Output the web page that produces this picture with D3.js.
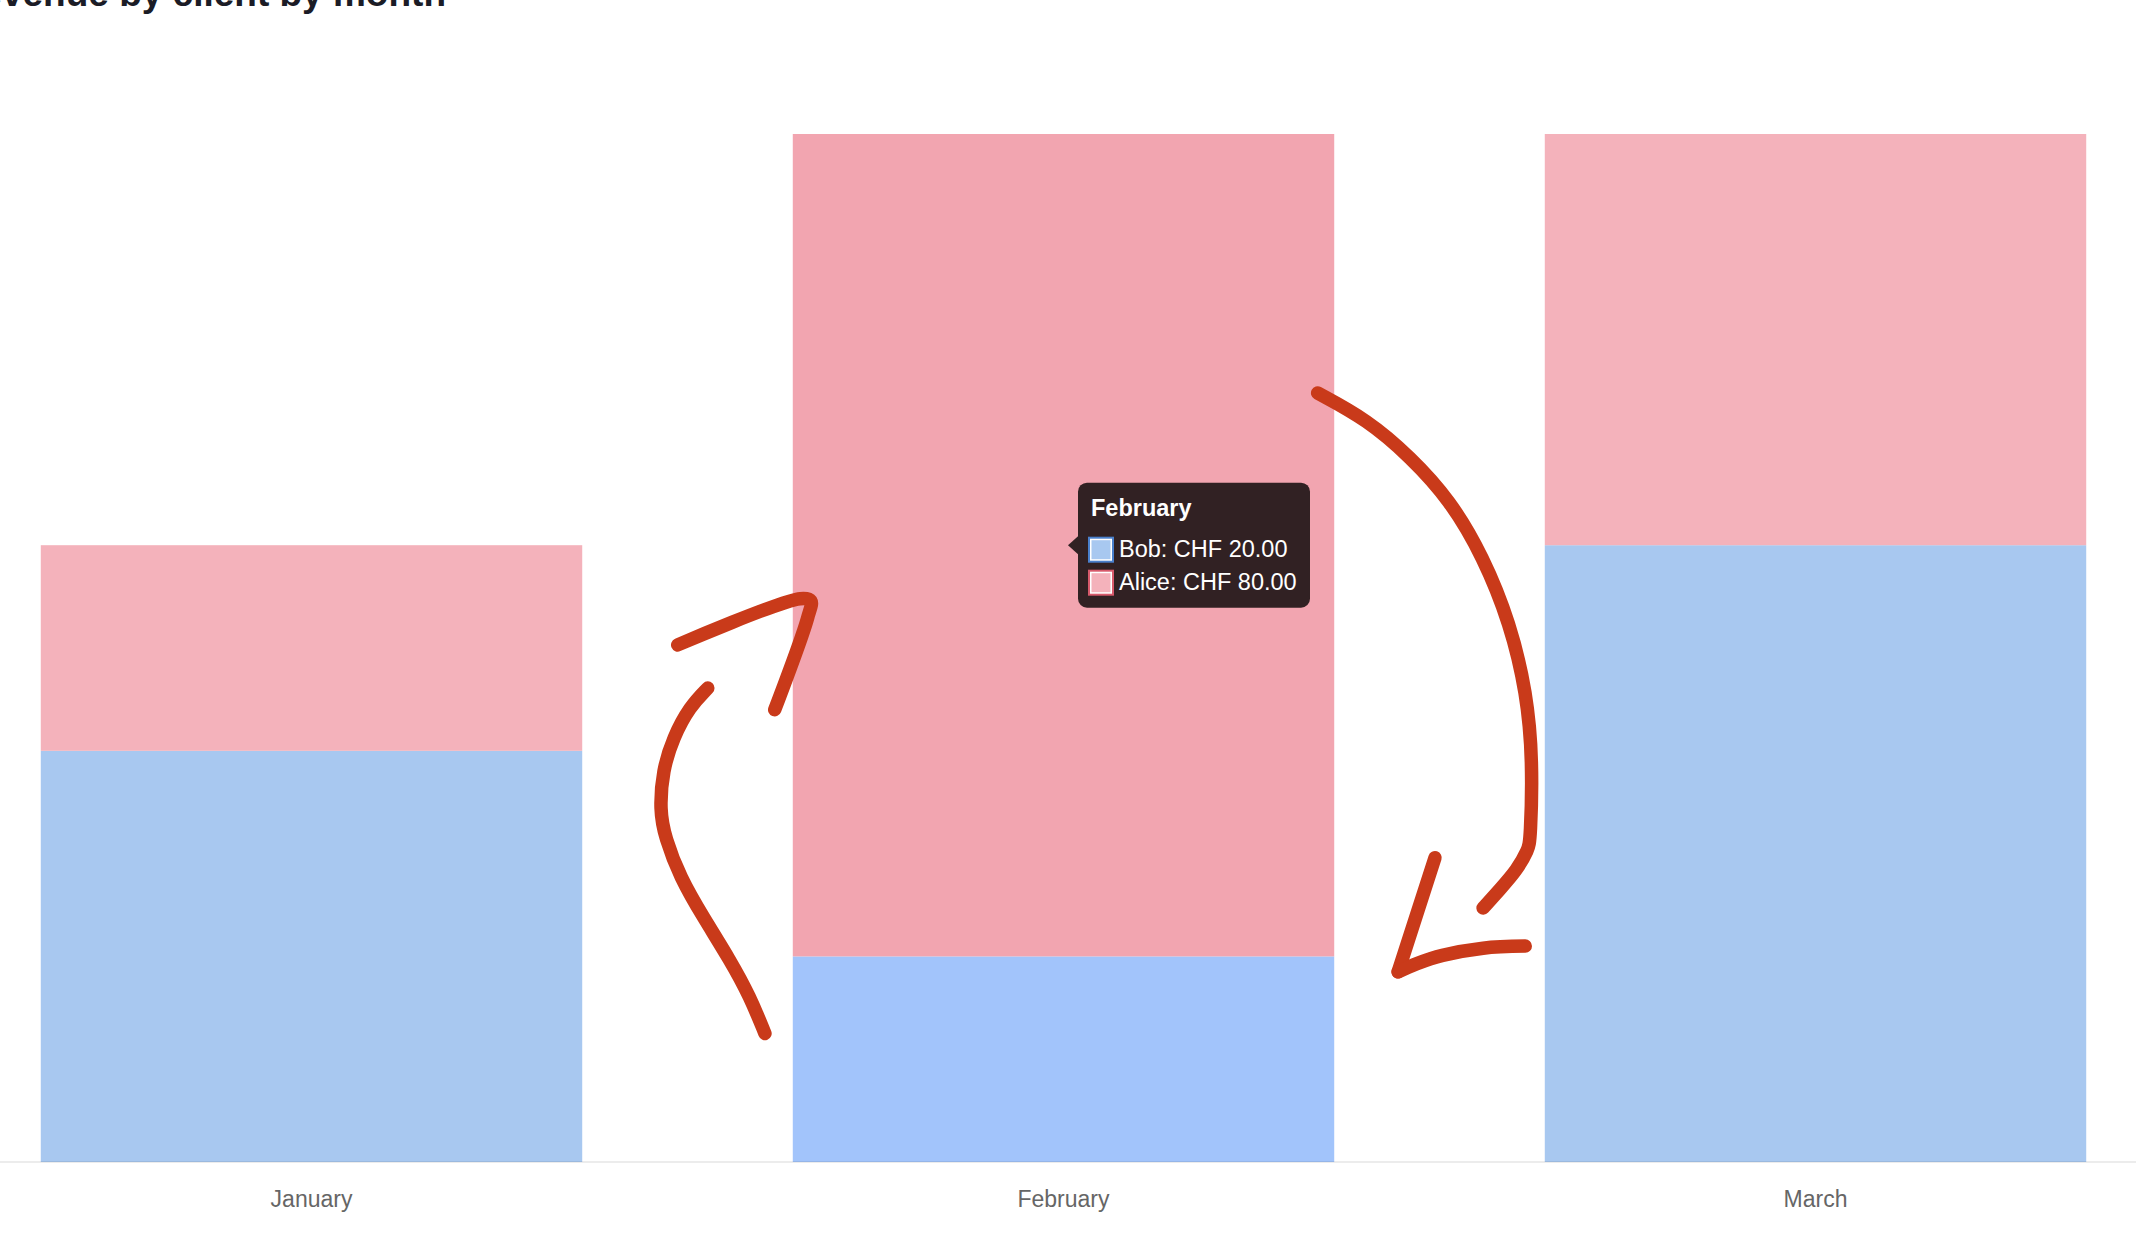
<!DOCTYPE html>
<html>
<head>
<meta charset="utf-8">
<script src="https://cdn.jsdelivr.net/npm/d3@7"></script>
<style>
  body { margin: 0; background: #fff; overflow: hidden; }
  svg { display: block; font-family: "Liberation Sans", Arial, sans-serif; }
</style>
</head>
<body>
<svg id="chart" width="2136" height="1260"></svg>
<script>
// data
var months = ["January", "February", "March"];
var clients = ["Bob", "Alice"];
var bob = [40, 20, 60];
var alice = [20, 80, 40];
var currency = "CHF";
var hovered = "February";

// hand drawn arrows, in [month index, value] units
var arrowLeftCurve = [[0.603, 12.5], [0.583, 16.1], [0.557, 19.6], [0.521, 23.8], [0.490, 27.7], [0.470, 31.6],
  [0.463, 34.2], [0.467, 38.1], [0.481, 41.3], [0.503, 44.3], [0.527, 46.1]];
var arrowLeftHead = [[0.487, 50.3], [0.650, 54.8], [0.664, 54.6], [0.660, 53.0], [0.616, 44.0]];
var arrowRightCurve = [[1.338, 74.8], [1.404, 72.2], [1.461, 68.6], [1.514, 64.4], [1.558, 58.9], [1.594, 52.4],
  [1.616, 45.6], [1.624, 39.1], [1.621, 31.3], [1.618, 30.4], [1.603, 28.4], [1.580, 26.5], [1.558, 24.7]];
var arrowRightHead = [[1.494, 29.6], [1.445, 18.5]];
var arrowRightTail = [[1.445, 18.5], [1.470, 19.3], [1.504, 20.1], [1.558, 20.8], [1.614, 21.0]];

var colors = { Bob: "#a8c8f0", Alice: "#f4b2bb" };
var hoverColors = { Bob: "#a2c4fb", Alice: "#f2a5b0" };
var boxBorder = { Bob: "#4a80cc", Alice: "#d85a6c" };

var svg = d3.select("#chart");

var rows = months.map(function(m, i) { return { month: m, Bob: bob[i], Alice: alice[i] }; });
var stacked = d3.stack().keys(clients)(rows);

var x = d3.scaleBand().domain(months).range([-64.5, 2191.5]).paddingInner(0.28).paddingOuter(0.14);
var y = d3.scaleLinear().domain([0, 100]).range([1162, 134]);
var xa = d3.scaleLinear().domain([0, 2]).range([x(months[0]) + x.bandwidth() / 2, x(months[2]) + x.bandwidth() / 2]);

// title (cut at the top of the picture)
svg.append("text").attr("x", 446).attr("y", 6).attr("text-anchor", "end")
  .style("font-size", "37px").style("font-weight", "bold").style("fill", "#1b1c26")
  .text("Revenue by client by month");

// bars
svg.append("g").selectAll("g").data(stacked).join("g")
  .each(function(s) {
    d3.select(this).selectAll("rect").data(s).join("rect")
      .attr("x", function(d) { return x(d.data.month); })
      .attr("y", function(d) { return y(d[1]); })
      .attr("width", x.bandwidth())
      .attr("height", function(d) { return y(d[0]) - y(d[1]); })
      .style("fill", function(d) { return d.data.month === hovered ? hoverColors[s.key] : colors[s.key]; });
  });

// x axis
var ax = svg.append("g").attr("transform", "translate(0," + y(0) + ")")
  .call(d3.axisBottom(x).tickSize(0));
ax.select(".domain").attr("d", "M0,0H2136").style("stroke", "rgba(0,0,0,0.1)").style("stroke-width", 1.5);
ax.selectAll("text").attr("y", 45).attr("dy", 0)
  .style("font-family", "'Liberation Sans', Arial, sans-serif").style("font-size", "23px").style("fill", "#666");

// arrows
var line = d3.line().x(function(d) { return xa(d[0]); }).y(function(d) { return y(d[1]); });
var arrows = svg.append("g").style("fill", "none").style("stroke", "#c93a1a").style("stroke-width", 13.5)
  .style("stroke-linecap", "round").style("stroke-linejoin", "round");
arrows.append("path").attr("d", line.curve(d3.curveBasis)(arrowLeftCurve));
arrows.append("path").attr("d", line.curve(d3.curveCatmullRom)(arrowLeftHead));
arrows.append("path").attr("d", line.curve(d3.curveBasis)(arrowRightCurve));
arrows.append("path").attr("d", line.curve(d3.curveLinear)(arrowRightHead));
arrows.append("path").attr("d", line.curve(d3.curveCatmullRom)(arrowRightTail));

// tooltip for the hovered month
var hi = months.indexOf(hovered);
var tipX = x(hovered) + x.bandwidth() / 2 + 4.5;
var tipY = d3.mean(stacked, function(s) { return y(s[hi][1]); });
var boxX = tipX + 10, boxW = 232, boxH = 125, boxY = tipY - boxH / 2;

var tip = svg.append("g");
tip.append("rect").attr("x", boxX).attr("y", boxY).attr("width", boxW).attr("height", boxH)
  .attr("rx", 9).style("fill", "rgba(0,0,0,0.8)");
tip.append("path").attr("d", "M" + boxX + "," + (tipY - 9) + "L" + tipX + "," + tipY + "L" + boxX + "," + (tipY + 9) + "Z")
  .style("fill", "rgba(0,0,0,0.8)");
tip.append("text").attr("x", boxX + 13).attr("y", boxY + 33).text(hovered)
  .style("font-size", "23.5px").style("font-weight", "bold").style("fill", "#fff");

var values = { Bob: bob, Alice: alice };
clients.forEach(function(c, i) {
  var top = boxY + 54 + i * 33;
  tip.append("rect").attr("x", boxX + 11).attr("y", top + 1).attr("width", 24).attr("height", 24)
    .style("fill", "#fff").style("stroke", boxBorder[c]).style("stroke-width", 2);
  tip.append("rect").attr("x", boxX + 13.5).attr("y", top + 3.5).attr("width", 19).attr("height", 19)
    .style("fill", colors[c]);
  tip.append("text").attr("x", boxX + 41).attr("y", top + 20)
    .text(c + ": " + currency + " " + values[c][hi].toFixed(2))
    .style("font-size", "23.5px").style("fill", "#fff");
});
</script>
</body>
</html>
